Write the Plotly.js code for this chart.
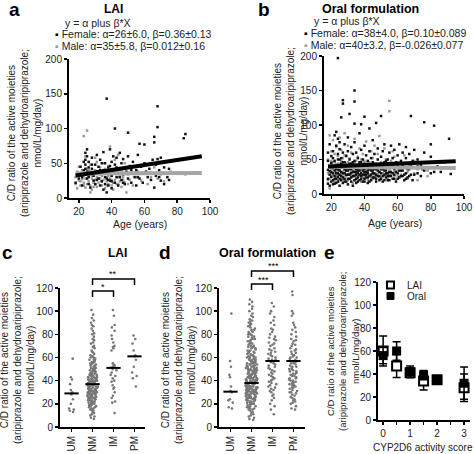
<!DOCTYPE html>
<html><head><meta charset="utf-8">
<script src="https://cdn.plot.ly/plotly-3.0.1.min.js"></script>
<style>html,body{margin:0;padding:0;background:#fff;overflow:hidden}#chart{width:474px;height:454px}</style>
</head><body><div id="chart"></div>
<script>
// ---------------- DATA ----------------
// Panel a (LAI): [age, C/D ratio]
const laiFemale = [[18,22],[19,35],[20,28],[21,45],[22,30],[22,18],[23,52],[23,40],[24,65],[24,55],[24,48],[25,70],[25,38],[25,28],[25,60],[26,44],[26,52],[26,20],[27,35],[27,15],[28,42],[28,58],[29,25],[29,32],[30,48],[30,20],[31,38],[31,62],[32,28],[32,45],[33,18],[33,55],[34,35],[34,24],[35,40],[35,12],[35,66],[36,30],[36,20],[36,50],[37,143],[37,28],[37,8],[38,44],[38,35],[38,18],[39,70],[39,25],[40,32],[40,52],[40,14],[41,60],[41,40],[42,100],[42,22],[42,48],[43,30],[43,58],[44,36],[44,18],[45,65],[45,42],[46,26],[46,50],[47,34],[47,56],[48,20],[48,44],[49,38],[50,94],[50,28],[50,60],[51,46],[52,22],[52,35],[53,52],[54,30],[55,40],[55,18],[56,62],[57,78],[57,28],[58,45],[58,35],[59,22],[60,77],[60,50],[61,38],[62,30],[63,42],[64,26],[65,55],[66,88],[66,80],[66,15],[67,48],[67,32],[68,132],[68,102],[68,56],[69,40],[70,25],[70,58],[71,36],[72,44],[72,20],[73,52],[74,30],[75,26],[75,42],[84,86],[85,92],[86,36],[23,33],[24,42],[26,30],[28,48],[30,36],[31,26],[33,40],[34,50],[36,38],[38,26],[39,46],[40,24],[43,44],[45,30],[47,22],[52,40],[56,30],[62,48],[64,36],[69,30]];
const laiMale = [[18,20],[18,30],[19,14],[19,38],[20,25],[20,45],[21,18],[21,33],[22,27],[22,40],[23,89],[23,22],[23,35],[24,15],[24,28],[25,97],[25,42],[25,20],[26,32],[26,24],[27,48],[27,18],[27,38],[28,28],[28,12],[29,34],[29,22],[30,40],[30,26],[30,58],[31,16],[31,30],[32,36],[32,22],[33,28],[33,44],[34,18],[34,32],[35,26],[35,50],[36,38],[36,14],[37,24],[37,30],[38,20],[38,46],[39,74],[39,28],[40,34],[40,18],[41,40],[41,12],[42,26],[42,55],[43,20],[43,36],[44,30],[44,62],[45,24],[46,40],[46,16],[47,30],[48,22],[48,50],[50,34],[51,26],[52,44],[53,18],[55,30],[56,38],[58,25],[60,36],[62,20],[64,30],[66,44],[68,28],[70,34],[72,24],[76,38],[85,34],[49,8],[27,8],[36,42],[31,52],[24,60],[21,24],[22,34],[23,18],[26,40],[28,32],[29,16],[30,20],[32,28],[33,34],[34,24],[35,36],[37,18],[38,32],[40,26],[41,22],[42,36],[44,20],[45,34],[47,26],[50,20]];
const laiAlpha = [26, 35];      // female, male
const laiBeta = [0.36, 0.012];

// Panel b (oral)
const oralFemale = [[24,197],[34,150],[27,136],[27,131],[34,134],[68,113],[76,104],[82,99],[91,80],[92,29],[40,112],[50,113],[31,116],[26,111],[34,102],[38,101],[43,95],[47,103],[18,22],[18,35],[18,48],[18,60],[18,15],[19,28],[19,40],[19,72],[19,12],[20,18],[20,32],[20,55],[20,45],[20,25],[21,38],[21,62],[21,20],[21,30],[22,26],[22,48],[22,85],[22,15],[22,34],[23,30],[23,70],[23,42],[23,22],[23,90],[24,36],[24,58],[24,18],[24,80],[24,25],[24,50],[25,40],[25,28],[25,65],[25,12],[25,75],[26,32],[26,52],[26,20],[26,44],[27,24],[27,60],[27,38],[27,16],[28,46],[28,30],[28,72],[28,22],[29,34],[29,18],[29,55],[30,28],[30,40],[30,62],[30,14],[30,82],[31,36],[31,22],[31,50],[32,30],[32,44],[32,68],[32,18],[33,26],[33,38],[33,12],[33,58],[34,32],[34,48],[34,20],[34,75],[35,28],[35,42],[35,36],[35,16],[35,60],[36,24],[36,34],[36,52],[36,30],[37,38],[37,20],[37,46],[37,88],[38,30],[38,26],[38,40],[38,64],[39,34],[39,18],[39,50],[40,28],[40,44],[40,36],[40,70],[40,22],[41,32],[41,24],[41,56],[42,38],[42,30],[42,16],[42,48],[43,26],[43,42],[43,62],[44,34],[44,20],[44,52],[45,30],[45,46],[45,38],[45,78],[46,24],[46,36],[46,58],[47,42],[47,28],[47,18],[48,34],[48,50],[48,66],[49,26],[49,40],[50,30],[50,22],[50,54],[50,44],[51,36],[51,62],[51,18],[52,28],[52,46],[52,72],[53,40],[53,24],[53,34],[54,50],[54,30],[54,20],[55,38],[55,60],[55,26],[56,44],[56,32],[56,70],[57,22],[57,52],[58,36],[58,28],[58,64],[59,46],[59,18],[60,30],[60,40],[60,56],[61,24],[61,72],[62,34],[62,48],[63,26],[63,60],[63,42],[64,38],[64,20],[65,30],[65,52],[65,68],[66,44],[66,24],[67,36],[67,58],[68,28],[69,48],[69,20],[70,38],[70,64],[72,30],[72,50],[74,42],[74,26],[76,34],[76,60],[78,46],[80,30],[80,54],[80,72],[84,40],[86,32],[88,46],
  [19,33],[20,38],[21,14],[21,52],[22,40],[22,22],[23,36],[23,16],[24,42],[24,30],[25,22],[25,34],[25,50],[26,26],[26,38],[27,30],[27,46],[28,18],[28,36],[29,28],[29,42],[30,34],[30,22],[31,28],[31,44],[32,24],[32,36],[33,32],[33,46],[34,26],[34,38],[35,22],[35,32],[36,40],[36,18],[37,28],[37,34],[38,22],[38,46],[39,28],[39,40],[40,18],[40,32],[41,40],[41,28],[42,24],[42,34],[43,36],[43,18],[44,28],[44,42],[45,24],[45,34],[46,30],[46,42],[47,22],[47,36],[48,26],[48,40],[49,32],[49,20],[50,36],[51,26],[51,42],[52,20],[52,34],[53,30],[53,48],[54,26],[54,38],[55,32],[55,20],[56,26],[56,38],[57,30],[57,42],[58,22],[59,32],[60,22],[61,34],[62,26],[63,34],[64,28],[65,22],[66,36],[67,26],[68,40],[70,28],[72,40],[75,36],[79,38],[82,32]];
const oralMale = [[18,30],[18,50],[18,20],[19,42],[19,85],[19,8],[20,36],[20,24],[20,62],[21,28],[21,46],[21,78],[22,40],[22,18],[22,58],[23,32],[23,68],[23,22],[24,44],[24,26],[24,55],[25,36],[25,82],[25,20],[26,30],[26,48],[26,64],[27,40],[27,22],[28,34],[28,56],[28,88],[29,26],[29,44],[30,38],[30,20],[30,70],[31,30],[31,52],[32,42],[32,24],[32,60],[33,34],[33,16],[34,46],[34,28],[34,80],[35,38],[35,22],[36,32],[36,54],[37,44],[37,26],[37,66],[38,36],[38,18],[39,40],[39,58],[40,30],[40,48],[40,24],[41,42],[41,76],[42,34],[42,20],[43,46],[43,28],[44,38],[44,62],[45,30],[45,52],[45,22],[46,44],[46,70],[47,36],[47,26],[48,40],[48,58],[49,32],[49,84],[50,46],[50,24],[52,38],[52,66],[53,28],[53,50],[54,42],[54,22],[55,135],[55,120],[55,36],[56,48],[56,30],[57,40],[57,62],[58,26],[58,54],[60,34],[60,46],[62,38],[62,28],[64,44],[64,56],[66,32],[66,22],[68,40],[70,30],[70,48],[72,36],[72,20],[74,42],[78,34],[78,26],
  [19,22],[20,30],[20,48],[21,36],[22,30],[22,46],[23,26],[23,40],[24,34],[24,18],[25,28],[25,44],[26,22],[26,38],[27,32],[27,52],[28,26],[28,42],[29,34],[29,56],[30,28],[30,46],[31,40],[31,22],[32,32],[33,26],[33,44],[34,36],[34,20],[35,30],[35,48],[36,26],[36,40],[37,34],[38,28],[38,50],[39,24],[39,34],[40,38],[41,30],[42,28],[42,46],[43,36],[44,24],[45,40],[46,28],[47,44],[48,30],[49,24],[50,36],[51,30],[52,26],[53,40],[55,28],[56,38],[58,32],[60,26],[63,36],[65,30],[67,40]];
const oralAlpha = [38, 40];
const oralBeta = [0.10, -0.026];
const fitAges = [18, 95];

// Panels c, d: CYP2D6 phenotype groups
const phenotypes = ['UM', 'NM', 'IM', 'PM'];
const laiUM = [59, 43, 41, 37, 32, 30, 28, 24, 20, 16, 14, 15, 13];
const laiNM = [101,97,94,92,90,88,87,85,83,81,80,78,76,75,73,72,70,69,68,66,65,64,63,62,61,60,60,59,58,58,57,56,56,55,55,54,54,53,53,52,52,51,51,50,50,50,49,49,48,48,48,47,47,47,46,46,46,45,45,45,45,44,44,44,43,43,43,43,42,42,42,41,41,41,41,40,40,40,40,39,39,39,39,38,38,38,38,37,37,37,37,36,36,36,36,35,35,35,35,34,34,34,34,33,33,33,33,32,32,32,32,31,31,31,31,30,30,30,30,29,29,29,29,28,28,28,28,27,27,27,27,26,26,26,26,25,25,25,25,24,24,24,23,23,23,22,22,22,21,21,21,20,20,20,19,19,18,18,17,17,16,16,15,15,14,13,12,11,10,9,8,7];
const laiIM = [101, 96, 88, 86, 83, 79, 76, 73, 70, 69, 68, 66, 55, 54, 53, 52, 52, 51, 50, 49, 47, 45, 44, 42, 40, 39, 36, 34, 33, 30, 27, 25, 22, 21, 12];
const laiPM = [79, 76, 72, 66, 62, 61, 58, 52, 47, 44, 42, 35];
const laiMedians = [29, 37, 51, 61];

const oralUM = [98, 57, 52, 45, 43, 35, 31, 30, 24, 23, 21, 17, 16];
const oralNM = [110,108,106,104,102,100,98,96,95,93,92,91,90,89,88,87,86,85,84,84,83,82,82,81,80,80,79,78,78,77,76,76,75,74,74,73,72,72,71,70,70,69,69,68,68,67,66,66,65,65,64,64,63,63,62,62,61,61,60,60,60,59,59,58,58,58,57,57,56,56,56,55,55,55,54,54,54,53,53,53,52,52,52,51,51,51,50,50,50,50,49,49,49,48,48,48,48,47,47,47,46,46,46,46,45,45,45,45,44,44,44,44,43,43,43,43,42,42,42,42,41,41,41,41,40,40,40,40,40,39,39,39,39,38,38,38,38,38,37,37,37,37,36,36,36,36,36,35,35,35,35,34,34,34,34,34,33,33,33,33,32,32,32,32,32,31,31,31,31,30,30,30,30,30,29,29,29,29,28,28,28,28,27,27,27,27,26,26,26,26,25,25,25,25,24,24,24,23,23,23,22,22,22,21,21,21,20,20,20,19,19,18,18,17,17,16,16,15,15,14,13,12,11,10,9,8,7,6];
const oralIM = [107,104,100,98,95,92,90,88,85,84,82,80,78,77,76,75,73,72,71,70,68,67,66,65,64,63,62,61,60,59,58,58,57,57,56,55,54,53,52,51,50,49,48,47,46,45,44,43,42,41,40,39,38,37,36,35,34,33,32,31,30,28,27,25,23,20,18,15,11];
const oralPM = [117,114,100,98,96,90,88,86,84,82,80,78,76,75,74,72,71,70,68,67,66,65,64,63,62,61,60,60,59,58,57,57,56,55,55,54,53,52,52,51,50,50,49,48,48,47,46,46,45,44,44,43,42,42,41,40,40,39,38,38,37,36,36,35,34,34,33,32,31,30,30,29,28,27,26,25,24,23,22,21,20,18,16,15];
const oralMedians = [30.5, 38, 57, 57];

// Panel e: CYP2D6 activity score
const activityScore = [0, 0.5, 1, 1.5, 2, 3];
const laiMean = [60, 47, 41, 34, 35, 28];
const laiErr  = [13, 10, 4, 8, 2, 12];
const oralMean = [56, 60, 42, 39, 35, 32];
const oralErr  = [7, 8, 5, 4, 2, 14];

// ---------------- BUILD ----------------
const W = 474, H = 454;
const PX = x => x / W, PY = y => 1 - y / H;
const F = 'Liberation Sans, Arial, sans-serif';
const GRAY = '#9a9a9a';

function pts(pairs, color, xa, ya) {
  return {type:'scatter', mode:'markers', x:pairs.map(p=>p[0]), y:pairs.map(p=>p[1]), xaxis:xa, yaxis:ya,
    marker:{symbol:'square', size:2.5, color:color, line:{width:0}}, showlegend:false, hoverinfo:'skip'};
}
function fit(alpha, beta, color, xa, ya) {
  return {type:'scatter', mode:'lines', x:fitAges, y:fitAges.map(a=>alpha+beta*a), xaxis:xa, yaxis:ya,
    line:{color:color, width:4}, showlegend:false, hoverinfo:'skip'};
}
function swarm(vals, name, jitter, xa, ya) {
  return {type:'box', y:vals, x0:phenotypes.indexOf(name), xaxis:xa, yaxis:ya, boxpoints:'all', jitter:jitter, pointpos:0,
    marker:{size:2.6, color:'#777', line:{width:0}}, line:{width:0, color:'rgba(0,0,0,0)'}, fillcolor:'rgba(0,0,0,0)',
    whiskerwidth:0, showlegend:false, hoverinfo:'skip'};
}
function medianLine(meds, xa, ya) {
  const x = [], y = [];
  meds.forEach((m,i)=>{ x.push(i-0.34, i+0.34, null); y.push(m, m, null); });
  return {type:'scatter', mode:'lines', x:x, y:y, xaxis:xa, yaxis:ya, line:{color:'#000', width:2}, showlegend:false, hoverinfo:'skip'};
}

const traces = [
  pts(laiMale, GRAY, 'x', 'y'), pts(laiFemale, '#111', 'x', 'y'),
  fit(laiAlpha[1], laiBeta[1], '#a6a6a6', 'x', 'y'), fit(laiAlpha[0], laiBeta[0], '#000', 'x', 'y'),
  pts(oralMale, GRAY, 'x2', 'y2'), pts(oralFemale, '#111', 'x2', 'y2'),
  fit(oralAlpha[1], oralBeta[1], '#a6a6a6', 'x2', 'y2'), fit(oralAlpha[0], oralBeta[0], '#000', 'x2', 'y2'),
  swarm(laiUM, 'UM', 0.5, 'x3', 'y3'), swarm(laiNM, 'NM', 0.9, 'x3', 'y3'),
  swarm(laiIM, 'IM', 0.6, 'x3', 'y3'), swarm(laiPM, 'PM', 0.5, 'x3', 'y3'),
  medianLine(laiMedians, 'x3', 'y3'),
  swarm(oralUM, 'UM', 0.5, 'x4', 'y4'), swarm(oralNM, 'NM', 1.0, 'x4', 'y4'),
  swarm(oralIM, 'IM', 0.8, 'x4', 'y4'), swarm(oralPM, 'PM', 0.8, 'x4', 'y4'),
  medianLine(oralMedians, 'x4', 'y4'),
  {type:'scatter', mode:'markers', x:activityScore, y:laiMean, xaxis:'x5', yaxis:'y5',
   error_y:{type:'data', array:laiErr, visible:true, color:'#000', thickness:1.5, width:4},
   marker:{symbol:'square', size:9, color:'#fff', line:{color:'#000', width:2}}, showlegend:false, hoverinfo:'skip'},
  {type:'scatter', mode:'markers', x:activityScore, y:oralMean, xaxis:'x5', yaxis:'y5',
   error_y:{type:'data', array:oralErr, visible:true, color:'#000', thickness:1.5, width:4},
   marker:{symbol:'square', size:9, color:'#000'}, showlegend:false, hoverinfo:'skip'}
];

const TF = {size:10, color:'#222', family:F};
const axBase = {showline:true, linecolor:'#000', linewidth:2, ticks:'outside', ticklen:3, tickwidth:1.5, tickcolor:'#000',
  showgrid:false, zeroline:false, fixedrange:true, type:'linear', tickfont:TF};
const ax = o => Object.assign({}, axBase, o);

function txt(text, x, y, o) {
  return Object.assign({text:text, x:PX(x), y:PY(y), xref:'paper', yref:'paper', showarrow:false,
    xanchor:'center', yanchor:'middle', font:{size:10.5, color:'#222', family:F}}, o||{});
}
const bold = (t, x, y, s) => txt('<b>'+t+'</b>', x, y, {font:{size:s, color:'#000', family:F}});
const yTitleText = 'C/D ratio of the active moieties<br>(aripiprazole and dehydroaripiprazole;<br>nmol/L/mg/day)';
const yTitle = (x, y, s) => txt(yTitleText, x, y, {textangle:-90, font:{size:s, color:'#222', family:F}});
const sq = c => '<span style="color:'+c+'">▪</span> ';
const star = (t, x, y) => txt(t, x, y, {font:{size:9, color:'#000', family:F}});

const annotations = [
  bold('a', 14, 9, 19), bold('LAI', 113, 9, 12),
  bold('b', 264, 9, 19), bold('Oral formulation', 370, 9, 12.5),
  txt('y = α plus β*X', 63, 23, {xanchor:'left'}),
  txt(sq('#000')+'Female: α='+laiAlpha[0]+'±6.0, β='+laiBeta[0]+'±0.13', 53, 34, {xanchor:'left'}),
  txt(sq(GRAY)+'Male: α='+laiAlpha[1]+'±5.8, β='+laiBeta[1]+'±0.16', 53, 46, {xanchor:'left'}),
  txt('y = α plus β*X', 312, 21, {xanchor:'left'}),
  txt(sq('#000')+'Female: α='+oralAlpha[0]+'±4.0, β=0.10±0.089', 302, 33, {xanchor:'left'}),
  txt(sq(GRAY)+'Male: α='+oralAlpha[1]+'±3.2, β='+oralBeta[1]+'±0.077', 302, 45, {xanchor:'left'}),
  yTitle(25, 133, 10), yTitle(290, 131, 10),
  txt('Age (years)', 140, 224), txt('Age (years)', 395, 223),
  bold('c', 8, 252, 19), bold('LAI', 117, 253, 12),
  bold('d', 165, 252, 19), bold('Oral formulation', 267, 253, 12.5),
  bold('e', 329, 252, 19),
  yTitle(17, 360, 10), yTitle(178, 360, 10), yTitle(343, 352, 9.5),
  star('**', 113, 274), star('*', 103, 287),
  star('***', 273, 266), star('***', 263, 280),
  txt('LAI', 405, 285, {xanchor:'left', font:TF}),
  txt('Oral', 405, 296, {xanchor:'left', font:TF}),
  txt('CYP2D6 activity score', 423, 447, {font:TF})
];

function bracket(xa, a, b, yTop, yLeg) {
  const x1 = phenotypes.indexOf(a), x2 = phenotypes.indexOf(b);
  return {type:'path', xref:xa, yref:'paper', line:{color:'#000', width:1.5},
    path:'M '+x1+','+PY(yLeg)+' L '+x1+','+PY(yTop)+' L '+x2+','+PY(yTop)+' L '+x2+','+PY(yLeg)};
}
const shapes = [
  bracket('x3', 'NM', 'PM', 279, 285), bracket('x3', 'NM', 'IM', 291, 297),
  bracket('x4', 'NM', 'PM', 271, 277), bracket('x4', 'NM', 'IM', 284, 290),
  {type:'rect', xref:'paper', yref:'paper', x0:PX(387), x1:PX(394), y0:PY(288.5), y1:PY(281.5), line:{color:'#000', width:2}, fillcolor:'#fff'},
  {type:'rect', xref:'paper', yref:'paper', x0:PX(387), x1:PX(394), y0:PY(299.5), y1:PY(292.5), line:{color:'#000', width:1}, fillcolor:'#000'}
];

const layout = {
  width:W, height:H, margin:{l:0, r:0, t:0, b:0}, paper_bgcolor:'#fff', plot_bgcolor:'rgba(0,0,0,0)',
  font:{family:F, color:'#222'}, showlegend:false, boxgap:0.2,
  xaxis: ax({domain:[PX(69), PX(210)], range:[14, 100], tickvals:[20,40,60,80,100], anchor:'y'}),
  yaxis: ax({domain:[PY(198), PY(59)], range:[0, 200], tickvals:[0,50,100,150,200], anchor:'x'}),
  xaxis2: ax({domain:[PX(324), PX(464)], range:[15.6, 100], tickvals:[20,40,60,80,100], anchor:'y2'}),
  yaxis2: ax({domain:[PY(194), PY(56)], range:[0, 200], tickvals:[0,50,100,150,200], anchor:'x2'}),
  xaxis3: ax({domain:[PX(60), PX(145)], range:[-0.55, 3.5], tickvals:[0,1,2,3], ticktext:phenotypes, tickangle:-90, anchor:'y3'}),
  yaxis3: ax({domain:[PY(427), PY(288)], range:[0, 120], dtick:20, anchor:'x3'}),
  xaxis4: ax({domain:[PX(219), PX(305)], range:[-0.55, 3.55], tickvals:[0,1,2,3], ticktext:phenotypes, tickangle:-90, anchor:'y4'}),
  yaxis4: ax({domain:[PY(427), PY(288)], range:[0, 120], dtick:20, anchor:'x4'}),
  xaxis5: ax({domain:[PX(378), PX(470)], range:[-0.19, 3.22], tickvals:[0,1,2,3], anchor:'y5',
    minor:{tickvals:[0.5,1.5,2.5], ticks:'outside', ticklen:3, tickwidth:1.5, tickcolor:'#000'}}),
  yaxis5: ax({domain:[PY(420), PY(282)], range:[0, 120], dtick:20, anchor:'x5'}),
  annotations: annotations, shapes: shapes
};

Plotly.newPlot('chart', traces, layout, {displayModeBar:false, staticPlot:true});
</script></body></html>
